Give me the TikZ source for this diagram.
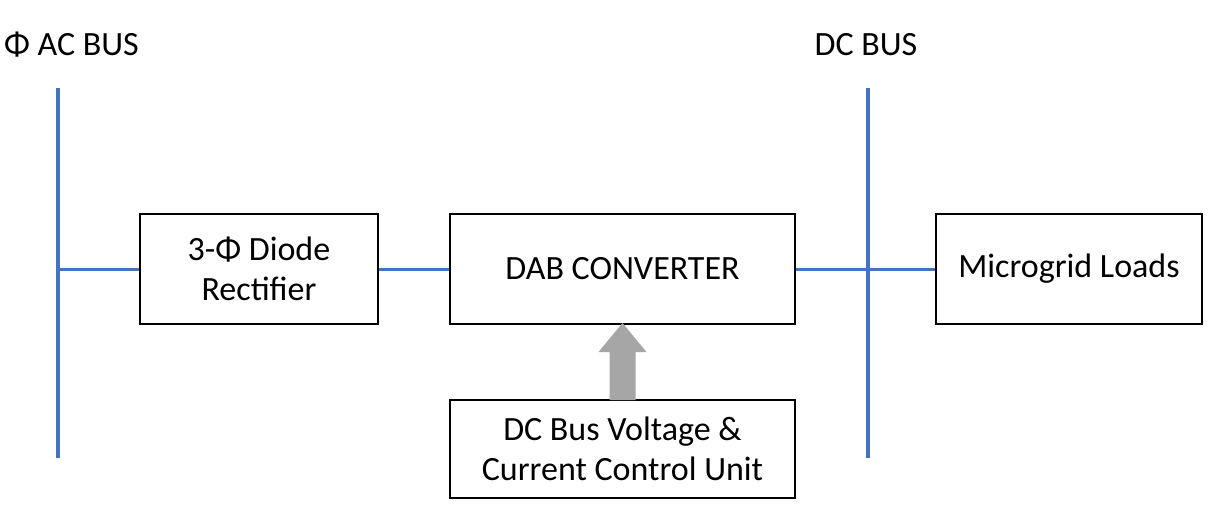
\documentclass[tikz,border=0pt]{standalone}
\usepackage{fontspec}
\setmainfont{Carlito}
\definecolor{busblue}{RGB}{68,114,196}
\definecolor{arrgray}{RGB}{166,166,166}
\begin{document}
\begin{tikzpicture}[x=1pt,y=-1pt,
  blk/.style={draw=black,line width=2pt,minimum height=110pt,align=center,font=\fontsize{34}{40}\selectfont,inner sep=0pt},
  bus/.style={busblue,line width=4pt},
  link/.style={busblue,line width=3pt},
  lbl/.style={font=\fontsize{34}{40}\selectfont,inner sep=0pt}]
\useasboundingbox (0,0) rectangle (1212,513);
\fill[white] (0,0) rectangle (1212,513);
% buses
\coordinate (ac1) at (58,88); \coordinate (ac2) at (58,458);
\coordinate (dc1) at (868,88); \coordinate (dc2) at (868,458);
\draw[bus] (ac1) -- (ac2);
\draw[bus] (dc1) -- (dc2);
\node[lbl,anchor=west] (aclbl) at (4,45) {Φ AC BUS};
\node[lbl] (dclbl) at (866,45) {DC BUS};
% blocks
\node[blk,minimum width=238pt] (rect) at (259,269) {3-Φ Diode\\Rectifier};
\node[blk,minimum width=345pt] (dab) at (622.5,269) {DAB CONVERTER};
\node[blk,minimum width=266pt] (load) at (1069,269) {Microgrid Loads};
\node[blk,minimum width=345pt,minimum height=98pt] (ctrl) at (622.5,449) {DC Bus Voltage \&\\Current Control Unit};
% links
\coordinate (acj) at (58,269);
\coordinate (dcj) at (868,269);
\draw[link] (acj) -- (rect.west);
\draw[link] (rect.east) -- (dab.west);
\draw[link] (dab.east) -- (load.west);
% control arrow
\fill[arrgray] ([xshift=-13pt,yshift=-1pt]ctrl.north) -- ([xshift=-13pt]ctrl.north |- 0,352)
  -- ([xshift=-24pt]ctrl.north |- 0,352) -- ([yshift=2pt]dab.south)
  -- ([xshift=24pt]ctrl.north |- 0,352) -- ([xshift=13pt]ctrl.north |- 0,352)
  -- ([xshift=13pt,yshift=-1pt]ctrl.north) -- cycle;
\end{tikzpicture}
\end{document}
